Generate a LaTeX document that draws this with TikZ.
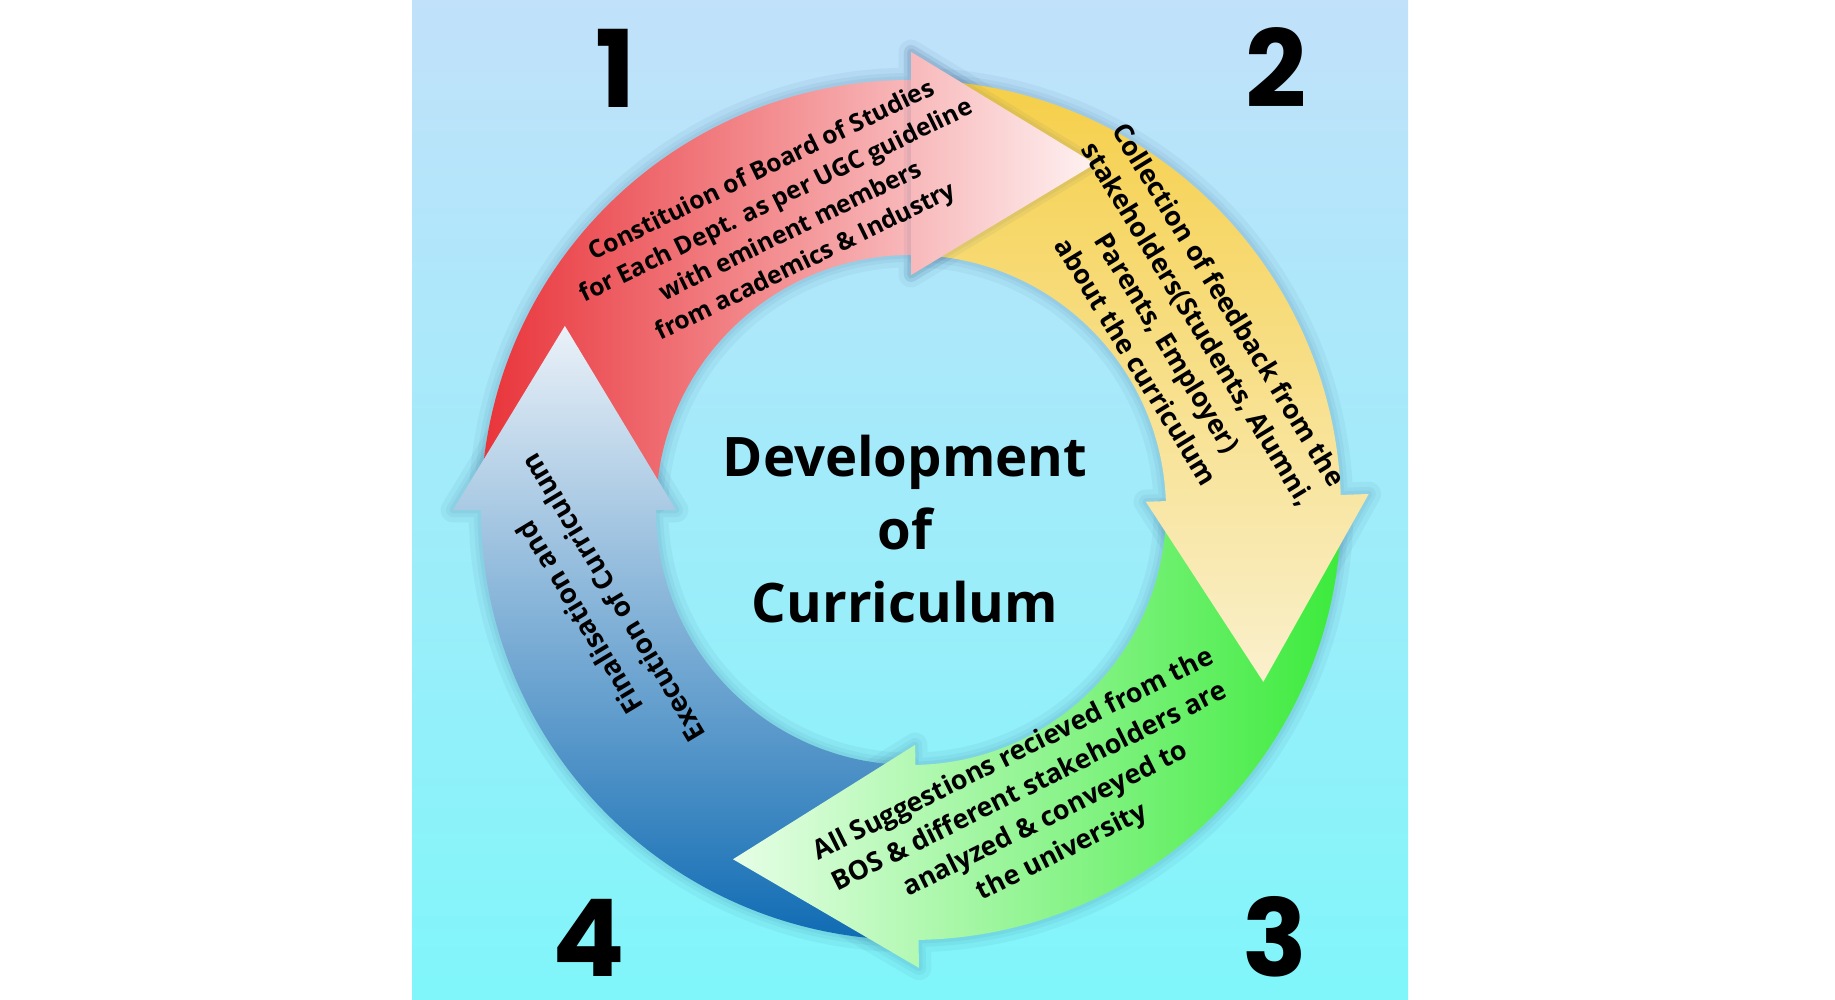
\documentclass[tikz,border=0pt]{standalone}
\usepackage{fontspec}
\setmainfont{Open Sans}
\newfontfamily\digitfont{Poppins}
\usetikzlibrary{calc}

\definecolor{bgtop}{RGB}{193,225,250}
\definecolor{bgbot}{RGB}{128,246,250}
\definecolor{redA}{RGB}{232,50,56}
\definecolor{redB}{RGB}{238,95,100}
\definecolor{redC}{RGB}{255,245,245}
\definecolor{yelA}{RGB}{245,205,65}
\definecolor{yelB}{RGB}{247,220,115}
\definecolor{yelC}{RGB}{250,242,212}
\definecolor{grnA}{RGB}{55,234,55}
\definecolor{grnB}{RGB}{100,240,100}
\definecolor{grnC}{RGB}{238,255,238}
\definecolor{bluA}{RGB}{12,105,178}
\definecolor{bluB}{RGB}{72,148,206}
\definecolor{bluC}{RGB}{244,247,251}
\definecolor{shadowblue}{RGB}{20,60,110}

% ring geometry
\newcommand{\ringout}{4.30}
\newcommand{\ringin}{2.55}
\newcommand{\wingout}{4.58}
\newcommand{\wingin}{2.35}
\newcommand{\tipr}{3.92}
% curved arrow: tail angle #1, head base angle #2
\newcommand{\cyclearrow}[2]{(#1:\ringout) arc[start angle=#1, end angle=#2, radius=\ringout] -- (#2:\wingout) -- ({#2-28}:\tipr) -- (#2:\wingin) -- (#2:\ringin) arc[start angle=#2, end angle=#1, radius=\ringin] -- cycle}
\newcommand{\cyclehead}[1]{(#1:\wingout) -- ({#1-28}:\tipr) -- (#1:\wingin) -- cycle}

\tikzset{
  arrowshadow/.style={draw=shadowblue, line join=round, opacity=0.05, line width=#1},
  steptext/.style={align=center, inner sep=0pt, font=\bfseries\fontsize{7}{9.6}\selectfont},
  numlabel/.style={inner sep=0pt, font=\digitfont\bfseries\fontsize{30.5}{30.5}\selectfont},
  centretitle/.style={align=center, inner sep=0pt, font=\bfseries\fontsize{15.5}{20.8}\selectfont}
}

\begin{document}
\begin{tikzpicture}
\useasboundingbox (0,0) rectangle (18.35,10);
\shade[top color=bgtop, bottom color=bgbot] (4.12,0) rectangle (14.08,10);

\begin{scope}[shift={(9.11,4.90)}]
  % soft shadow round the ring
  \foreach \w in {7pt,4pt,2pt}{
    \path[arrowshadow=\w] \cyclearrow{178}{90};
    \path[arrowshadow=\w] \cyclearrow{-91}{-180};
    \path[arrowshadow=\w] \cyclearrow{0}{-89};
    \path[arrowshadow=\w] \cyclearrow{88}{2};
  }
  % 1: red
  \begin{scope}
    \clip \cyclearrow{178}{90};
    \shade[left color=redA, middle color=redB, right color=redC] (-4.35,-0.3) rectangle (1.95,4.7);
  \end{scope}
  % 4: blue
  \begin{scope}
    \clip \cyclearrow{-91}{-180};
    \shade[bottom color=bluA, middle color=bluB, top color=bluC] (-4.7,-4.4) rectangle (0.4,2.1);
  \end{scope}
  % 3: green
  \begin{scope}
    \clip \cyclearrow{0}{-89};
    \shade[left color=grnC, middle color=grnB, right color=grnA] (-2.05,-4.65) rectangle (4.45,0.3);
  \end{scope}
  % 2: yellow
  \begin{scope}
    \clip \cyclearrow{88}{2};
    \shade[top color=yelA, middle color=yelB, bottom color=yelC] (-0.6,-2.05) rectangle (4.7,4.65);
  \end{scope}
  % red head again, over the yellow tail
  \foreach \w in {4pt,2pt}{
    \path[arrowshadow=\w] \cyclehead{90};
  }
  \begin{scope}
    \clip \cyclehead{90};
    \shade[left color=redA, middle color=redB, right color=redC] (-4.35,-0.3) rectangle (1.95,4.7);
  \end{scope}
\end{scope}

\node[centretitle] (title) at (9.05,4.71) {Development\\of\\Curriculum};

\node[steptext, rotate=26] (step1) at (7.84,7.83) {Constituion of Board of Studies\\for Each Dept. as per UGC guideline\\with eminent members\\from academics \& Industry};
\node[steptext, rotate=-58.5, font=\bfseries\fontsize{7.6}{10.3}\selectfont] (step2) at (11.83,6.67) {Collection of feedback from the\\stakeholders(Students, Alumni,\\Parents, Employer)\\about the curriculum};
\node[steptext, rotate=26.5, font=\bfseries\fontsize{7.6}{10.3}\selectfont] (step3) at (10.38,1.96) {All Suggestions recieved from the\\BOS \& different stakeholders are\\analyzed \& conveyed to\\the university};
\node[steptext, rotate=121, font=\bfseries\fontsize{7.8}{11.2}\selectfont] (step4) at (5.96,3.92) {Finalisation and\\Execution of Curriculum};

\node[numlabel] (one) at (6.16,9.32) {1};
\node[numlabel] (two) at (12.76,9.32) {2};
\node[numlabel] (three) at (12.75,0.63) {3};
\node[numlabel] (four) at (5.89,0.62) {4};
\end{tikzpicture}
\end{document}
